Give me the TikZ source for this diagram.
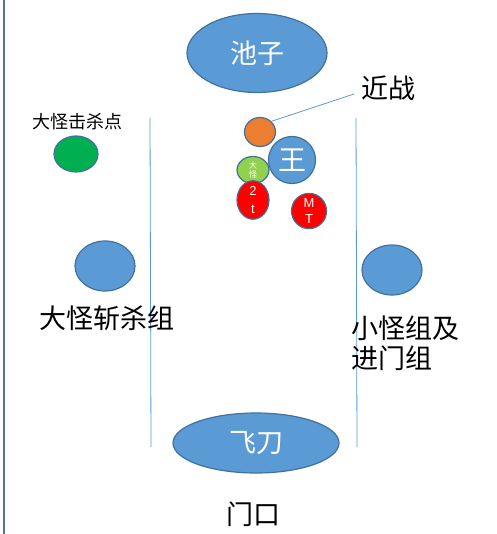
\documentclass[tikz,border=0pt]{standalone}
\usepackage{fontspec}
\setmainfont{Liberation Sans}
\newfontfamily\cjk{Noto Sans CJK SC}
\usetikzlibrary{shapes.geometric}
\definecolor{ablue}{HTML}{5B9BD5}
\definecolor{bordblue}{HTML}{41719C}
\definecolor{aorange}{HTML}{ED7D31}
\definecolor{lgreen}{HTML}{92D050}
\definecolor{dgreen}{HTML}{00B050}
\definecolor{edgegray}{HTML}{5A7391}
\begin{document}
\begin{tikzpicture}[x=1pt,y=-1pt,
    blob/.style={ellipse,draw=bordblue,line width=1.2pt,fill=ablue,inner sep=0pt,text=white},
    big/.style={font=\cjk\fontsize{27}{30}\selectfont},
    lane/.style={draw=ablue,line width=0.8pt}]
  \useasboundingbox (0,0) rectangle (496,534);
  \fill[white] (0,0) rectangle (496,534);
  \draw[edgegray,line width=2pt] (4,0) -- (4,534);
  % lanes
  \coordinate (L1) at (150,118);
  \coordinate (L2) at (151,447);
  \coordinate (R1) at (356,118);
  \coordinate (R2) at (357,447);
  \draw[lane] (L1) -- (L2);
  \draw[lane] (R1) -- (R2);
  % pool and door
  \node[blob,big,minimum width=140,minimum height=79] (pool) at (257,53) {池子};
  \node[blob,big,minimum width=166,minimum height=60] (knife) at (256,443) {飞刀};
  \node[big] (door) at (253,514) {门口};
  % boss area
  \node[blob,fill=aorange,minimum width=31,minimum height=29] (melee) at (260,132) {};
  \node[big] (jz) at (388,88) {近战};
  \coordinate (jzend) at (354,94);
  \draw[lane] (melee.north east) -- (jzend);
  \node[blob,font=\cjk\fontsize{28}{30}\selectfont,minimum width=47,minimum height=47] (king) at (292,160) {王};
  \node[blob,fill=lgreen,minimum width=32,minimum height=27,font=\cjk\fontsize{8}{8.5}\selectfont,align=center] (boss) at (253,170) {大\\怪};
  \node[blob,fill=red,minimum width=32,minimum height=32,font=\fontsize{13}{18}\selectfont,align=center] (ot) at (253,200) {2\\t};
  \node[blob,fill=red,minimum width=35,minimum height=35,font=\fontsize{13}{16}\selectfont,align=center] (mt) at (309,211) {M\\T};
  % kill point
  \node[font=\cjk\fontsize{18}{20}\selectfont] (kp) at (77,122) {大怪击杀点};
  \node[blob,fill=dgreen,minimum width=44,minimum height=36] (kill) at (76,154) {};
  % groups
  \node[blob,minimum width=60,minimum height=50] (left) at (105,266) {};
  \node[big] (lt) at (107,318) {大怪斩杀组};
  \node[blob,minimum width=60,minimum height=50] (right) at (392,270) {};
  \node[big,align=left] (rt) at (405,343) {小怪组及\\进门组};
\end{tikzpicture}
\end{document}
